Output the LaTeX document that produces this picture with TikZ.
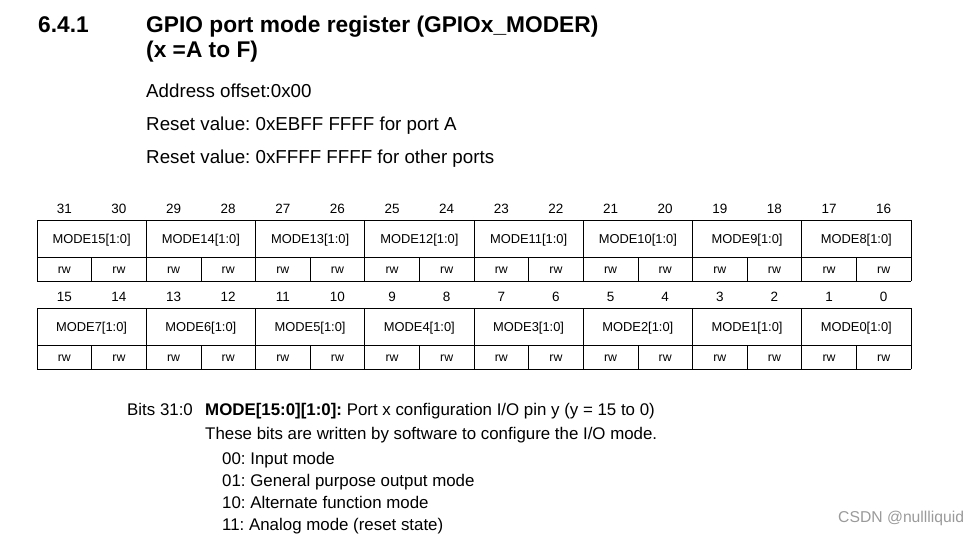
\documentclass[tikz,border=0pt]{standalone}
\usepackage{fontspec}
\setmainfont{Liberation Sans}
\usepackage{xcolor}
\definecolor{markgrey}{HTML}{9A9A9A}
\frenchspacing

\begin{document}
\begin{tikzpicture}[x=0.03cm,y=-0.03cm,
    bitnum/.style={anchor=base,inner sep=0pt,font=\fontsize{11.5}{13}\selectfont},
    fieldtxt/.style={anchor=base,inner sep=0pt,font=\fontsize{11}{13}\selectfont},
    rwtxt/.style={anchor=base,inner sep=0pt,font=\fontsize{10.5}{12}\selectfont},
    bodytxt/.style={anchor=base west,inner sep=0pt,font=\fontsize{16}{18}\selectfont},
    desctxt/.style={anchor=base west,inner sep=0pt,font=\fontsize{14.4}{17}\selectfont},
    regline/.style={line width=0.6pt}
]
\useasboundingbox (0,0) rectangle (978,535);
% heading
\node[bodytxt,font=\fontsize{19.4}{22}\selectfont\bfseries] (secnum) at (38,33) {6.4.1};
\node[bodytxt,font=\fontsize{19.4}{22}\selectfont\bfseries] (title1) at (146,33) {GPIO port mode register (GPIOx\_MODER)};
\node[bodytxt,font=\fontsize{19.4}{22}\selectfont\bfseries] (title2) at (146,58) {(x =A to F)};
\node[bodytxt] (offset) at (146,97) {Address offset:0x00};
\node[bodytxt] (resetA) at (146,130) {Reset value: 0xEBFF FFFF for port A};
\node[bodytxt] (resetB) at (146,163) {Reset value: 0xFFFF FFFF for other ports};
% register table, two halves
\foreach \row/\top/\hi in {0/220/31,1/308/15}{
  \pgfmathsetmacro{\mid}{\top+37}
  \pgfmathsetmacro{\bot}{\top+61}
  \draw[regline] (37,\top) -- (911,\top);
  \draw[regline] (37,\mid) -- (911,\mid);
  \draw[regline] (37,\bot) -- (911,\bot);
  \foreach \i in {0,...,16}{
    \pgfmathsetmacro{\xx}{37+\i*54.625}
    \ifodd\i
      \draw[regline] (\xx,\mid) -- (\xx,\bot);
    \else
      \draw[regline] (\xx,\top) -- (\xx,\bot);
    \fi
  }
  \foreach \i in {0,...,15}{
    \pgfmathsetmacro{\xc}{37+\i*54.625+27.3}
    \pgfmathtruncatemacro{\bit}{\hi-\i}
    \node[bitnum] (n\bit) at (\xc,\top-7) {\bit};
    \node[rwtxt] (rw\bit) at (\xc,\mid+16) {rw};
  }
  \foreach \j in {0,...,7}{
    \pgfmathsetmacro{\xf}{37+\j*109.25+54.6}
    \pgfmathtruncatemacro{\fld}{(\hi-1)/2-\j}
    \node[fieldtxt] (f\fld) at (\xf,\top+23) {MODE\fld[1:0]};
  }
}
% description
\node[desctxt] (bits) at (127,415) {Bits 31:0};
\node[desctxt] (field) at (205,415) {\textbf{MODE[15:0][1:0]:} Port x configuration I/O pin y (y = 15 to 0)};
\node[desctxt] (these) at (205,439) {These bits are written by software to configure the I/O mode.};
\node[desctxt] (m00) at (222,464) {00: Input mode};
\node[desctxt] (m01) at (222,486) {01: General purpose output mode};
\node[desctxt] (m10) at (222,508) {10: Alternate function mode};
\node[desctxt] (m11) at (222,530) {11: Analog mode (reset state)};
\node[anchor=base west,inner sep=0pt,text=markgrey,font=\fontsize{13.4}{15}\selectfont] (mark) at (838,522) {CSDN @nullliquid};
\end{tikzpicture}
\end{document}
